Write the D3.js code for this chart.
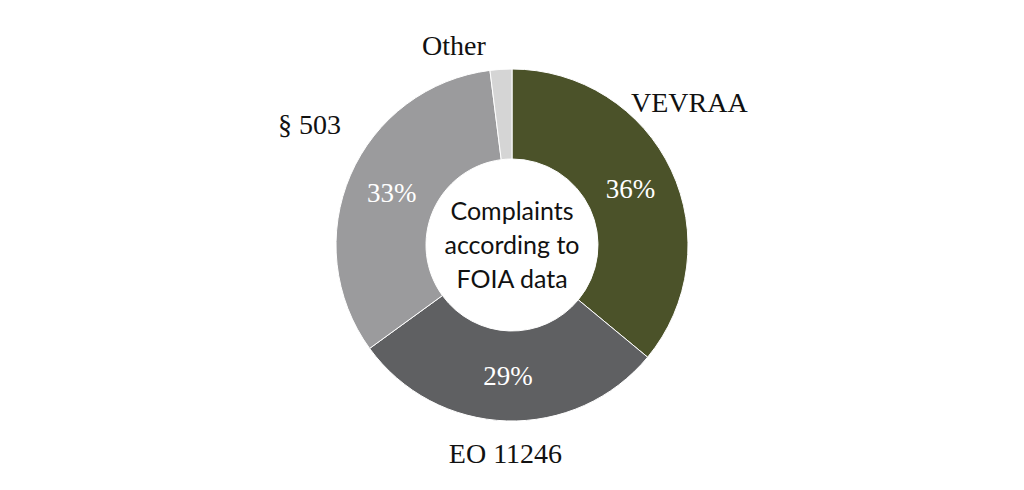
<!DOCTYPE html>
<html><head><meta charset="utf-8">
<script src="https://cdn.jsdelivr.net/npm/d3@7"></script>
<style>body{margin:0;background:#fff}</style>
</head><body>
<svg id="c" width="1024" height="490"></svg>
<script>
const categories = ["VEVRAA", "EO 11246", "§ 503", "Other"];
const values = [36, 29, 33, 2];
const pctLabels = ["36%", "29%", "33%", ""];
const colors = ["#4b5229", "#5f6062", "#9b9b9d", "#d5d5d5"];
const centerText = ["Complaints", "according to", "FOIA data"];

const svg = d3.select("#c");
const cx = 512, cy = 245, R = 176, r = 86;
const g = svg.append("g").attr("transform", `translate(${cx},${cy})`);
const pie = d3.pie().sort(null).value(d => d)(values);
const arc = d3.arc().innerRadius(r).outerRadius(R);
g.selectAll("path").data(pie).join("path")
  .attr("d", arc).attr("fill", (d,i) => colors[i])
  .attr("stroke", "#fff").attr("stroke-width", 1);

const mid = d => (d.startAngle + d.endAngle) / 2;
g.selectAll("text.p").data(pie).join("text")
  .attr("x", d => Math.sin(mid(d)) * 131)
  .attr("y", d => -Math.cos(mid(d)) * 131 + 9)
  .attr("text-anchor", "middle")
  .attr("font-family", "'Liberation Serif', 'DejaVu Serif', serif")
  .attr("font-size", 27).attr("fill", "#fff")
  .text((d,i) => pctLabels[i]);

const shift = [-0.24, 0, 0.13, -0.22];
const lr = [228, 208, 236, 208];
g.selectAll("text.l").data(pie).join("text")
  .attr("x", (d,i) => Math.sin(mid(d) + shift[i]) * lr[i])
  .attr("y", (d,i) => -Math.cos(mid(d) + shift[i]) * lr[i] + 10)
  .attr("text-anchor", "middle")
  .attr("font-family", "'Liberation Serif', serif")
  .attr("font-size", 28).attr("fill", "#111")
  .text((d,i) => categories[i]);

g.selectAll("text.c").data(centerText).join("text")
  .attr("x", 0).attr("y", (d,i) => (i - 1) * 34 + 9)
  .attr("text-anchor", "middle")
  .attr("font-family", "Lato, sans-serif").attr("font-size", 25)
  .attr("fill", "#111").text(d => d);
</script>
</body></html>
